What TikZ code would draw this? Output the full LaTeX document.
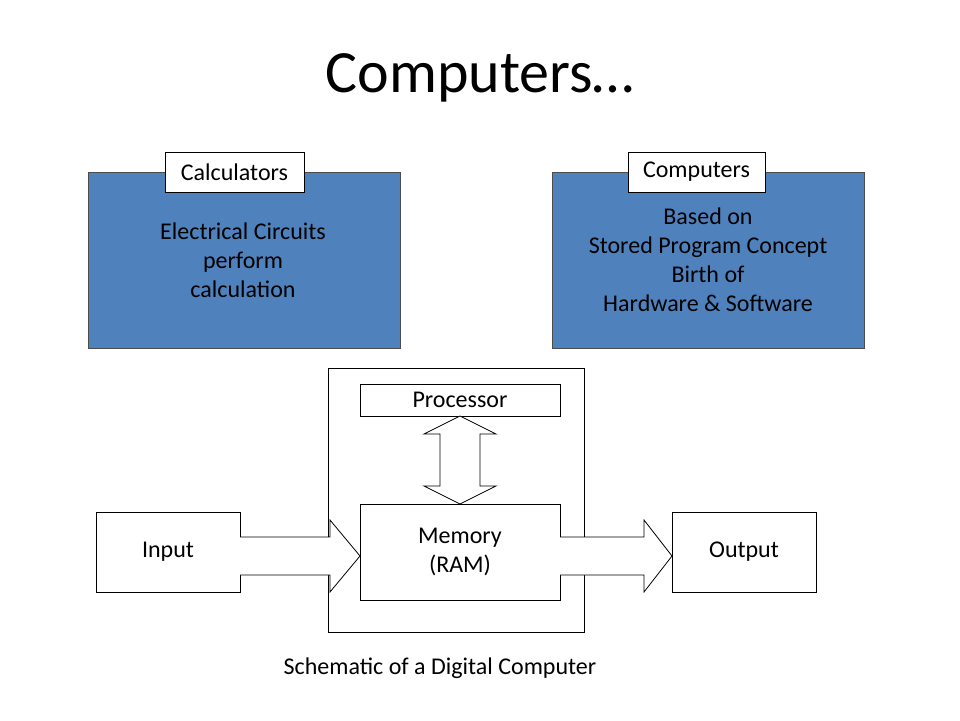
\documentclass[tikz,border=0pt]{standalone}
\usepackage{fontspec}
\setmainfont{Carlito}
\begin{document}
\begin{tikzpicture}[x=1pt,y=-1pt,
 blue/.style={draw=black!70,fill={rgb,255:red,79;green,129;blue,189},line width=0.8pt},
 wb/.style={draw=black,fill=white,line width=0.8pt},
 txt/.style={font=\fontsize{24}{29}\selectfont,align=center}]
\useasboundingbox (0,0) rectangle (960,720);
\node[font=\fontsize{60}{60}\selectfont] (title) at (480,78) {Computers…};
\draw[blue] (88,172) rectangle (400,348);
\draw[blue] (552,172) rectangle (864,348);
\node[wb,minimum width=139,minimum height=40,txt] (calc) at (234.5,172) {Calculators};
\node[wb,minimum width=137,minimum height=40,txt] (comp) at (696.5,172) {Computers};
\node[txt] (ctext) at (243,260) {Electrical Circuits\\perform\\ calculation};
\node[txt] (ptext) at (708,260) {Based on\\Stored Program Concept\\Birth of\\Hardware \& Software};
\draw[line width=0.8pt] (328,368) rectangle (584,632);
\node[wb,minimum width=200,minimum height=32,txt] (proc) at (460,400) {Processor};
\node[wb,minimum width=200,minimum height=96,txt] (mem) at (460,552) {Memory\\(RAM)};
\node[wb,minimum width=144,minimum height=80,txt] (in) at (168,552) {Input};
\node[wb,minimum width=144,minimum height=80,txt] (out) at (744,552) {Output};
\draw[line width=0.8pt,fill=white] (460,416) -- (496,434) -- (480,434) -- (480,486) -- (496,486) -- (460,504) -- (424,486) -- (440,486) -- (440,434) -- (424,434) -- cycle;
\draw[line width=0.8pt,fill=white] (240,537) -- (330,537) -- (330,520) -- (360,556) -- (330,592) -- (330,575) -- (240,575);
\draw[line width=0.8pt,fill=white] (560,537) -- (644,537) -- (644,520) -- (672,556) -- (644,592) -- (644,575) -- (560,575);
\node[txt] (cap) at (440,668) {Schematic of a Digital Computer};
\end{tikzpicture}
\end{document}
